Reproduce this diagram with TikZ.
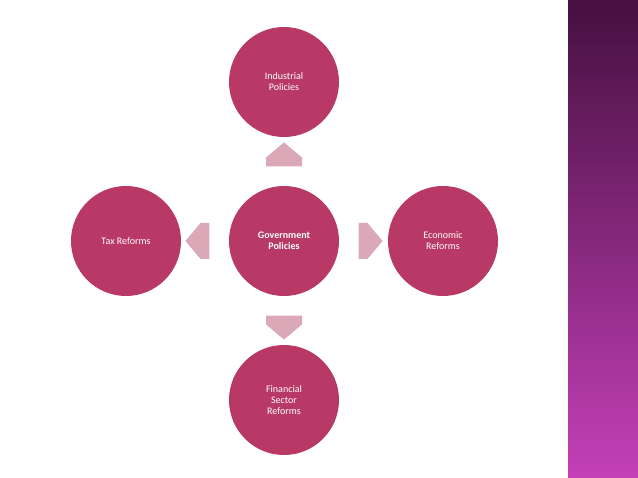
\documentclass[tikz,border=0pt]{standalone}
\usepackage{fontspec}
\setmainfont{Carlito}
\usetikzlibrary{shapes.arrows,positioning}
\definecolor{berry}{RGB}{184,57,102}
\definecolor{blush}{RGB}{219,168,184}
\definecolor{plumtop}{RGB}{70,16,64}
\definecolor{plumbot}{RGB}{196,64,184}
\tikzset{
  topic/.style={circle, fill=berry, minimum size=110pt, inner sep=2pt,
    text=white, font=\fontsize{10}{11}\selectfont, align=center},
  pointer/.style={single arrow, fill=blush, minimum height=24pt,
    minimum width=36pt, single arrow head extend=0pt, inner sep=0pt,
    single arrow tip angle=100}
}
\begin{document}
\begin{tikzpicture}[x=1pt,y=-1pt]
\useasboundingbox (0,0) rectangle (638,478);
\fill[white] (0,0) rectangle (638,478);
\shade[top color=plumtop, bottom color=plumbot] (568,0) rectangle (638,478);
% circles
\node[topic, font=\fontsize{10}{11}\selectfont\bfseries] (gov) at (284,241) {Government\\Policies};
\node[topic] (ind) at (284,82) {Industrial\\Policies};
\node[topic] (fin) at (284,400) {Financial\\Sector\\Reforms};
\node[topic] (tax) at (126,241) {Tax Reforms};
\node[topic] (eco) at (443,241) {Economic\\Reforms};
% arrows
\node[pointer, shape border rotate=90] (up) at (284,162) {};
\node[pointer, shape border rotate=270] (down) at (284,320) {};
\node[pointer, shape border rotate=180] (left) at (205,241) {};
\node[pointer, shape border rotate=0] (right) at (363,241) {};
\end{tikzpicture}
\end{document}
